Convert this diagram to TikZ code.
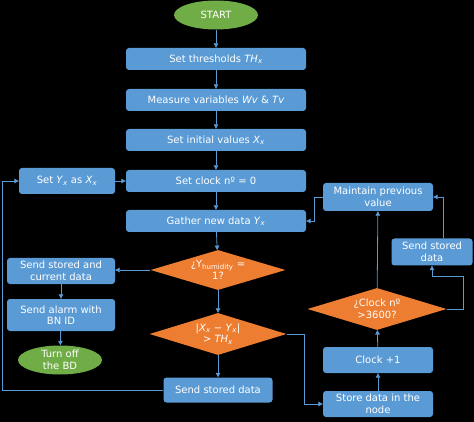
\documentclass[tikz,border=0pt]{standalone}
\usepackage{fontspec}
\setmainfont{DejaVu Sans}
\usetikzlibrary{shapes.geometric,arrows.meta}
\definecolor{boxblue}{HTML}{5B9BD5}
\definecolor{decorange}{HTML}{ED7D31}
\definecolor{termgreen}{HTML}{70AD47}

\begin{document}
\begin{tikzpicture}[x=1pt, y=-1pt,
    every node/.style={font=\fontsize{10}{11.5}\selectfont, text=white, align=center},
    process/.style={fill=boxblue, rounded corners=3pt, inner sep=1pt},
    decision/.style={diamond, fill=decorange, aspect=3.4, inner sep=0pt},
    terminal/.style={ellipse, fill=termgreen, inner sep=0pt},
    link/.style={draw=boxblue, line width=0.8pt, -{Triangle[length=4.5pt,width=4.5pt]}}]
    % Background
    \useasboundingbox (0,0) rectangle (474,422);
    \fill[black] (0,0) rectangle (474,422);

    % Main column
    \node[terminal, minimum width=84pt, minimum height=29pt] (start) at (216,15) {START};
    \node[process, minimum width=180pt, minimum height=22pt] (thresh) at (216,59) {Set thresholds \textit{TH}\textsubscript{\textit{x}}};
    \node[process, minimum width=180pt, minimum height=22pt] (measure) at (216,100) {Measure variables \textit{Wv} \& \textit{Tv}};
    \node[process, minimum width=180pt, minimum height=22pt] (initval) at (216,140) {Set initial values \textit{X}\textsubscript{\textit{x}}};
    \node[process, minimum width=180pt, minimum height=22pt] (clockzero) at (216,181) {Set clock nº = 0};
    \node[process, minimum width=180pt, minimum height=22pt] (gather) at (216,221) {Gather new data \textit{Y}\textsubscript{\textit{x}}};
    \node[decision, minimum width=135pt, minimum height=40pt] (humid) at (218,270) {¿Y\textsubscript{humidity} =\\1?};
    \node[decision, minimum width=137pt, minimum height=42pt] (diff) at (218,334) {|\textit{X}\textsubscript{\textit{x}} − \textit{Y}\textsubscript{\textit{x}}|\\> \textit{TH}\textsubscript{\textit{x}}};
    \node[process, minimum width=109pt, minimum height=25pt] (sendstored) at (218,390) {Send stored data};

    % Left column
    \node[process, minimum width=96pt, minimum height=26pt] (setyx) at (67,181) {Set \textit{Y}\textsubscript{\textit{x}} as \textit{X}\textsubscript{\textit{x}}};
    \node[process, minimum width=108pt, minimum height=26pt] (sendcurrent) at (61,271) {Send stored and\\current data};
    \node[process, minimum width=108pt, minimum height=32pt] (alarm) at (61,315) {Send alarm with\\BN ID};
    \node[terminal, minimum width=84pt, minimum height=29pt] (turnoff) at (60,360) {Turn off\\the BD};

    % Right column
    \node[process, minimum width=110pt, minimum height=28pt] (maintain) at (378,197) {Maintain previous\\value};
    \node[process, minimum width=81pt, minimum height=27pt] (sendright) at (432,252) {Send stored\\data};
    \node[decision, minimum width=139pt, minimum height=42pt] (clockcheck) at (377,309) {¿Clock nº\\>3600?};
    \node[process, minimum width=110pt, minimum height=26pt] (clockinc) at (378,360) {Clock +1};
    \node[process, minimum width=110pt, minimum height=26pt] (storenode) at (378,404) {Store data in the\\node};

    % Connectors
    \draw[link] (start) -- (thresh);
    \draw[link] (thresh) -- (measure);
    \draw[link] (measure) -- (initval);
    \draw[link] (initval) -- (clockzero);
    \draw[link] (clockzero) -- (gather);
    \draw[link] (gather) -- (humid);
    \draw[link] (humid) -- (diff);
    \draw[link] (diff) -- (sendstored);
    \draw[link] (setyx) -- (clockzero);
    \draw[link] (humid.west) -- (humid.west -| sendcurrent.east);
    \draw[link] (sendcurrent) -- (alarm);
    \draw[link] (alarm) -- (turnoff);
    \draw[link] (sendstored.west) -| ([xshift=-16pt]setyx.west) -- (setyx.west);
    \draw[link] (diff.east) -- ++(18,0) |- (storenode.west);
    \draw[link] (storenode) -- (clockinc);
    \draw[link] (clockinc) -- (clockcheck);
    \draw[link] (clockcheck) -- (maintain);
    \draw[link] (clockcheck.east) -- ++(17,0) |- ([yshift=-11pt]sendright.south) -- (sendright.south);
    \draw[link] ([xshift=11pt]sendright.north) |- (maintain.east);
    \draw[link] (maintain.west) -- ++(-8,0) |- (gather.east);
\end{tikzpicture}
\end{document}
